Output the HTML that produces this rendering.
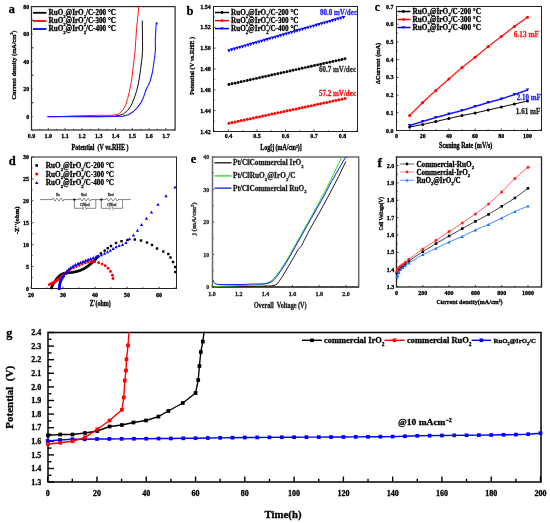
<!DOCTYPE html>
<html><head><meta charset="utf-8"><title>Figure</title>
<style>
html,body{margin:0;padding:0;background:#fff;}
body{width:550px;height:523px;overflow:hidden;}
svg{display:block;}
svg text{font-family:'Liberation Serif', 'Times New Roman', serif;font-weight:bold;stroke-width:0.3px;stroke-linejoin:round;}
</style></head><body>
<svg width="550" height="523" viewBox="0 0 550 523">
<rect x="0" y="0" width="550" height="523" fill="#fff"/>
<line x1="31.5" y1="130" x2="31.5" y2="127.8" stroke="#2a2a2a" stroke-width="0.8" />
<line x1="48.3" y1="130" x2="48.3" y2="127.8" stroke="#2a2a2a" stroke-width="0.8" />
<line x1="65.1" y1="130" x2="65.1" y2="127.8" stroke="#2a2a2a" stroke-width="0.8" />
<line x1="81.9" y1="130" x2="81.9" y2="127.8" stroke="#2a2a2a" stroke-width="0.8" />
<line x1="98.7" y1="130" x2="98.7" y2="127.8" stroke="#2a2a2a" stroke-width="0.8" />
<line x1="115.5" y1="130" x2="115.5" y2="127.8" stroke="#2a2a2a" stroke-width="0.8" />
<line x1="132.3" y1="130" x2="132.3" y2="127.8" stroke="#2a2a2a" stroke-width="0.8" />
<line x1="149.1" y1="130" x2="149.1" y2="127.8" stroke="#2a2a2a" stroke-width="0.8" />
<line x1="165.9" y1="130" x2="165.9" y2="127.8" stroke="#2a2a2a" stroke-width="0.8" />
<line x1="39.9" y1="130" x2="39.9" y2="128.8" stroke="#2a2a2a" stroke-width="0.8" />
<line x1="56.7" y1="130" x2="56.7" y2="128.8" stroke="#2a2a2a" stroke-width="0.8" />
<line x1="73.5" y1="130" x2="73.5" y2="128.8" stroke="#2a2a2a" stroke-width="0.8" />
<line x1="90.3" y1="130" x2="90.3" y2="128.8" stroke="#2a2a2a" stroke-width="0.8" />
<line x1="107.1" y1="130" x2="107.1" y2="128.8" stroke="#2a2a2a" stroke-width="0.8" />
<line x1="123.9" y1="130" x2="123.9" y2="128.8" stroke="#2a2a2a" stroke-width="0.8" />
<line x1="140.7" y1="130" x2="140.7" y2="128.8" stroke="#2a2a2a" stroke-width="0.8" />
<line x1="157.5" y1="130" x2="157.5" y2="128.8" stroke="#2a2a2a" stroke-width="0.8" />
<line x1="174.3" y1="130" x2="174.3" y2="128.8" stroke="#2a2a2a" stroke-width="0.8" />
<line x1="31.5" y1="102.75" x2="33.5" y2="102.75" stroke="#2a2a2a" stroke-width="0.8" />
<line x1="31.5" y1="75.25" x2="33.5" y2="75.25" stroke="#2a2a2a" stroke-width="0.8" />
<line x1="31.5" y1="47.75" x2="33.5" y2="47.75" stroke="#2a2a2a" stroke-width="0.8" />
<line x1="31.5" y1="20.25" x2="33.5" y2="20.25" stroke="#2a2a2a" stroke-width="0.8" />
<line x1="31.5" y1="130.25" x2="32.7" y2="130.25" stroke="#2a2a2a" stroke-width="0.8" />
<line x1="31.5" y1="116.5" x2="32.7" y2="116.5" stroke="#2a2a2a" stroke-width="0.8" />
<line x1="31.5" y1="102.75" x2="32.7" y2="102.75" stroke="#2a2a2a" stroke-width="0.8" />
<line x1="31.5" y1="89" x2="32.7" y2="89" stroke="#2a2a2a" stroke-width="0.8" />
<line x1="31.5" y1="75.25" x2="32.7" y2="75.25" stroke="#2a2a2a" stroke-width="0.8" />
<line x1="31.5" y1="61.5" x2="32.7" y2="61.5" stroke="#2a2a2a" stroke-width="0.8" />
<line x1="31.5" y1="47.75" x2="32.7" y2="47.75" stroke="#2a2a2a" stroke-width="0.8" />
<line x1="31.5" y1="34" x2="32.7" y2="34" stroke="#2a2a2a" stroke-width="0.8" />
<line x1="31.5" y1="20.25" x2="32.7" y2="20.25" stroke="#2a2a2a" stroke-width="0.8" />
<line x1="31.5" y1="6.5" x2="32.7" y2="6.5" stroke="#2a2a2a" stroke-width="0.8" />
<rect x="31.5" y="6.6" width="143.6" height="123.4" fill="none" stroke="#2a2a2a" stroke-width="1.2"/>
<text x="29.2" y="118.54" font-size="6" fill="#000" stroke="#000" text-anchor="end" >0</text>
<text x="29.2" y="91.04" font-size="6" fill="#000" stroke="#000" text-anchor="end" >20</text>
<text x="29.2" y="63.54" font-size="6" fill="#000" stroke="#000" text-anchor="end" >40</text>
<text x="29.2" y="36.04" font-size="6" fill="#000" stroke="#000" text-anchor="end" >60</text>
<text x="29.2" y="8.54" font-size="6" fill="#000" stroke="#000" text-anchor="end" >80</text>
<text x="31.5" y="138.04" font-size="6" fill="#000" stroke="#000" text-anchor="middle" >0.9</text>
<text x="48.3" y="138.04" font-size="6" fill="#000" stroke="#000" text-anchor="middle" >1.0</text>
<text x="65.1" y="138.04" font-size="6" fill="#000" stroke="#000" text-anchor="middle" >1.1</text>
<text x="81.9" y="138.04" font-size="6" fill="#000" stroke="#000" text-anchor="middle" >1.2</text>
<text x="98.7" y="138.04" font-size="6" fill="#000" stroke="#000" text-anchor="middle" >1.3</text>
<text x="115.5" y="138.04" font-size="6" fill="#000" stroke="#000" text-anchor="middle" >1.4</text>
<text x="132.3" y="138.04" font-size="6" fill="#000" stroke="#000" text-anchor="middle" >1.5</text>
<text x="149.1" y="138.04" font-size="6" fill="#000" stroke="#000" text-anchor="middle" >1.6</text>
<text x="165.9" y="138.04" font-size="6" fill="#000" stroke="#000" text-anchor="middle" >1.7</text>
<text x="71.6" y="149.65" font-size="7.2" fill="#000" stroke="#000" textLength="56.8" lengthAdjust="spacingAndGlyphs" >Potential&#160;&#160;(V vs.RHE )</text>
<text x="13.5" y="67.11" font-size="6.2" fill="#000" stroke="#000" text-anchor="middle" transform="rotate(-90 13.5 65)" >Current density (mA/cm<tspan font-size="3.84" dy="-2.36">2</tspan><tspan dy="2.36">)</tspan></text>
<text x="8.8" y="12.6" font-size="12.2" stroke="#000">a</text>
<polyline points="48,116.6 100,116.6 110,116.4 115,116.1 119,115.5 123.7,113.8 127.7,110.4 131.4,105.1 134.1,98.4 136.4,91.7 138.1,85 139.2,79 140.5,70 142,58 142.6,50 142.5,40 142.3,21" fill="none" stroke="#111" stroke-width="1" stroke-linejoin="round" stroke-linecap="round" />
<polyline points="48,116.9 60,116.6 75,115.9 90,115.5 100,115.3 110,115.3 115,115.1 119,113.8 123,109.8 125.7,105.1 127.7,98.4 129.4,91.7 130.7,85 132,77 133.3,66 134.6,55 135.2,50 135.6,43 136.8,26 137.8,17 138.5,10 138.4,6.5" fill="none" stroke="#ff1a1a" stroke-width="1" stroke-linejoin="round" stroke-linecap="round" />
<polyline points="48,116.5 100,116.6 115,116.5 123,116.1 128.4,114.8 133.1,111.8 137.8,107.1 141.1,102.4 143.8,96.4 145.8,90.5 146.6,88.3 148.3,85.5 150.2,81 152.5,72 154.5,58 155.5,50 155.3,40 156,27 156.3,22.5 157.6,24" fill="none" stroke="#1a1aff" stroke-width="1.1" stroke-linejoin="round" stroke-linecap="round" />
<line x1="33" y1="12.8" x2="46.5" y2="12.8" stroke="#000" stroke-width="1.8" />
<text x="48.5" y="15.25" font-size="7.2" fill="#000" stroke="#000" textLength="67.5" lengthAdjust="spacingAndGlyphs" >RuO<tspan font-size="4.61" dy="2.3">2</tspan><tspan dy="-2.3">@IrO<tspan font-size="4.61" dy="2.3">2</tspan><tspan dy="-2.3">/C-200 &#176;C</tspan></tspan></text>
<line x1="33" y1="21" x2="46.5" y2="21" stroke="#ff0000" stroke-width="1.8" />
<text x="48.5" y="23.45" font-size="7.2" fill="#000" stroke="#000" textLength="67.5" lengthAdjust="spacingAndGlyphs" >RuO<tspan font-size="4.61" dy="2.3">2</tspan><tspan dy="-2.3">@IrO<tspan font-size="4.61" dy="2.3">2</tspan><tspan dy="-2.3">/C-300 &#176;C</tspan></tspan></text>
<line x1="33" y1="29" x2="46.5" y2="29" stroke="#0000ff" stroke-width="1.8" />
<text x="48.5" y="31.45" font-size="7.2" fill="#000" stroke="#000" textLength="67.5" lengthAdjust="spacingAndGlyphs" >RuO<tspan font-size="4.61" dy="2.3">2</tspan><tspan dy="-2.3">@IrO<tspan font-size="4.61" dy="2.3">2</tspan><tspan dy="-2.3">/C-400 &#176;C</tspan></tspan></text>
<line x1="228.5" y1="131.5" x2="228.5" y2="129.5" stroke="#222" stroke-width="0.8" />
<line x1="257" y1="131.5" x2="257" y2="129.5" stroke="#222" stroke-width="0.8" />
<line x1="285.5" y1="131.5" x2="285.5" y2="129.5" stroke="#222" stroke-width="0.8" />
<line x1="314" y1="131.5" x2="314" y2="129.5" stroke="#222" stroke-width="0.8" />
<line x1="342.5" y1="131.5" x2="342.5" y2="129.5" stroke="#222" stroke-width="0.8" />
<line x1="214.25" y1="131.5" x2="214.25" y2="130.3" stroke="#222" stroke-width="0.8" />
<line x1="242.75" y1="131.5" x2="242.75" y2="130.3" stroke="#222" stroke-width="0.8" />
<line x1="271.25" y1="131.5" x2="271.25" y2="130.3" stroke="#222" stroke-width="0.8" />
<line x1="299.75" y1="131.5" x2="299.75" y2="130.3" stroke="#222" stroke-width="0.8" />
<line x1="328.25" y1="131.5" x2="328.25" y2="130.3" stroke="#222" stroke-width="0.8" />
<line x1="356.75" y1="131.5" x2="356.75" y2="130.3" stroke="#222" stroke-width="0.8" />
<line x1="213.5" y1="131.5" x2="215.5" y2="131.5" stroke="#222" stroke-width="0.8" />
<line x1="213.5" y1="110.67" x2="215.5" y2="110.67" stroke="#222" stroke-width="0.8" />
<line x1="213.5" y1="89.83" x2="215.5" y2="89.83" stroke="#222" stroke-width="0.8" />
<line x1="213.5" y1="69" x2="215.5" y2="69" stroke="#222" stroke-width="0.8" />
<line x1="213.5" y1="48.17" x2="215.5" y2="48.17" stroke="#222" stroke-width="0.8" />
<line x1="213.5" y1="27.33" x2="215.5" y2="27.33" stroke="#222" stroke-width="0.8" />
<line x1="213.5" y1="6.5" x2="215.5" y2="6.5" stroke="#222" stroke-width="0.8" />
<line x1="213.5" y1="121.08" x2="214.7" y2="121.08" stroke="#222" stroke-width="0.8" />
<line x1="213.5" y1="100.25" x2="214.7" y2="100.25" stroke="#222" stroke-width="0.8" />
<line x1="213.5" y1="79.42" x2="214.7" y2="79.42" stroke="#222" stroke-width="0.8" />
<line x1="213.5" y1="58.58" x2="214.7" y2="58.58" stroke="#222" stroke-width="0.8" />
<line x1="213.5" y1="37.75" x2="214.7" y2="37.75" stroke="#222" stroke-width="0.8" />
<line x1="213.5" y1="16.92" x2="214.7" y2="16.92" stroke="#222" stroke-width="0.8" />
<rect x="213.5" y="6.5" width="144" height="125" fill="none" stroke="#222" stroke-width="1"/>
<text x="210.8" y="133.54" font-size="6" fill="#000" stroke="#000" text-anchor="end" >1.42</text>
<text x="210.8" y="112.71" font-size="6" fill="#000" stroke="#000" text-anchor="end" >1.44</text>
<text x="210.8" y="91.87" font-size="6" fill="#000" stroke="#000" text-anchor="end" >1.46</text>
<text x="210.8" y="71.04" font-size="6" fill="#000" stroke="#000" text-anchor="end" >1.48</text>
<text x="210.8" y="50.21" font-size="6" fill="#000" stroke="#000" text-anchor="end" >1.50</text>
<text x="210.8" y="29.37" font-size="6" fill="#000" stroke="#000" text-anchor="end" >1.52</text>
<text x="210.8" y="8.54" font-size="6" fill="#000" stroke="#000" text-anchor="end" >1.54</text>
<text x="228.5" y="138.44" font-size="6" fill="#000" stroke="#000" text-anchor="middle" >0.4</text>
<text x="257" y="138.44" font-size="6" fill="#000" stroke="#000" text-anchor="middle" >0.5</text>
<text x="285.5" y="138.44" font-size="6" fill="#000" stroke="#000" text-anchor="middle" >0.6</text>
<text x="314" y="138.44" font-size="6" fill="#000" stroke="#000" text-anchor="middle" >0.7</text>
<text x="342.5" y="138.44" font-size="6" fill="#000" stroke="#000" text-anchor="middle" >0.8</text>
<text x="260.3" y="150.35" font-size="7.2" fill="#000" stroke="#000" textLength="41.5" lengthAdjust="spacingAndGlyphs" >Log[j (mA/cm<tspan font-size="4.46" dy="-2.74">2</tspan><tspan dy="2.74">)]</tspan></text>
<text x="192.3" y="68.11" font-size="6.2" fill="#000" stroke="#000" text-anchor="middle" textLength="58" lengthAdjust="spacingAndGlyphs" transform="rotate(-90 192.3 66)" >Potential (V vs.RHE )</text>
<text x="186.5" y="14.9" font-size="12.5" stroke="#000">b</text>
<polygon points="227.15,49.13 230.85,49.13 229,52.46" fill="#0000ff"/>
<polygon points="229.88,48.34 233.58,48.34 231.73,51.67" fill="#0000ff"/>
<polygon points="232.6,47.55 236.3,47.55 234.45,50.88" fill="#0000ff"/>
<polygon points="235.33,46.76 239.03,46.76 237.18,50.09" fill="#0000ff"/>
<polygon points="238.05,45.97 241.75,45.97 239.9,49.3" fill="#0000ff"/>
<polygon points="240.78,45.18 244.48,45.18 242.63,48.51" fill="#0000ff"/>
<polygon points="243.51,44.39 247.21,44.39 245.36,47.72" fill="#0000ff"/>
<polygon points="246.23,43.6 249.93,43.6 248.08,46.93" fill="#0000ff"/>
<polygon points="248.96,42.81 252.66,42.81 250.81,46.14" fill="#0000ff"/>
<polygon points="251.69,42.02 255.39,42.02 253.54,45.35" fill="#0000ff"/>
<polygon points="254.41,41.23 258.11,41.23 256.26,44.56" fill="#0000ff"/>
<polygon points="257.14,40.44 260.84,40.44 258.99,43.77" fill="#0000ff"/>
<polygon points="259.86,39.65 263.56,39.65 261.71,42.98" fill="#0000ff"/>
<polygon points="262.59,38.86 266.29,38.86 264.44,42.19" fill="#0000ff"/>
<polygon points="265.32,38.07 269.02,38.07 267.17,41.4" fill="#0000ff"/>
<polygon points="268.04,37.28 271.74,37.28 269.89,40.61" fill="#0000ff"/>
<polygon points="270.77,36.49 274.47,36.49 272.62,39.82" fill="#0000ff"/>
<polygon points="273.5,35.7 277.2,35.7 275.35,39.03" fill="#0000ff"/>
<polygon points="276.22,34.91 279.92,34.91 278.07,38.24" fill="#0000ff"/>
<polygon points="278.95,34.12 282.65,34.12 280.8,37.45" fill="#0000ff"/>
<polygon points="281.67,33.33 285.37,33.33 283.52,36.66" fill="#0000ff"/>
<polygon points="284.4,32.54 288.1,32.54 286.25,35.87" fill="#0000ff"/>
<polygon points="287.13,31.74 290.83,31.74 288.98,35.07" fill="#0000ff"/>
<polygon points="289.85,30.95 293.55,30.95 291.7,34.28" fill="#0000ff"/>
<polygon points="292.58,30.16 296.28,30.16 294.43,33.49" fill="#0000ff"/>
<polygon points="295.3,29.37 299,29.37 297.15,32.7" fill="#0000ff"/>
<polygon points="298.03,28.58 301.73,28.58 299.88,31.91" fill="#0000ff"/>
<polygon points="300.76,27.79 304.46,27.79 302.61,31.12" fill="#0000ff"/>
<polygon points="303.48,27 307.18,27 305.33,30.33" fill="#0000ff"/>
<polygon points="306.21,26.21 309.91,26.21 308.06,29.54" fill="#0000ff"/>
<polygon points="308.94,25.42 312.64,25.42 310.79,28.75" fill="#0000ff"/>
<polygon points="311.66,24.63 315.36,24.63 313.51,27.96" fill="#0000ff"/>
<polygon points="314.39,23.84 318.09,23.84 316.24,27.17" fill="#0000ff"/>
<polygon points="317.11,23.05 320.81,23.05 318.96,26.38" fill="#0000ff"/>
<polygon points="319.84,22.26 323.54,22.26 321.69,25.59" fill="#0000ff"/>
<polygon points="322.57,21.47 326.27,21.47 324.42,24.8" fill="#0000ff"/>
<polygon points="325.29,20.68 328.99,20.68 327.14,24.01" fill="#0000ff"/>
<polygon points="328.02,19.89 331.72,19.89 329.87,23.22" fill="#0000ff"/>
<polygon points="330.75,19.1 334.45,19.1 332.6,22.43" fill="#0000ff"/>
<polygon points="333.47,18.31 337.17,18.31 335.32,21.64" fill="#0000ff"/>
<polygon points="336.2,17.52 339.9,17.52 338.05,20.85" fill="#0000ff"/>
<polygon points="338.92,16.73 342.62,16.73 340.77,20.06" fill="#0000ff"/>
<polygon points="341.65,15.94 345.35,15.94 343.5,19.27" fill="#0000ff"/>
<circle cx="229" cy="84.5" r="1.45" fill="#000"/>
<circle cx="232.05" cy="83.82" r="1.45" fill="#000"/>
<circle cx="235.11" cy="83.15" r="1.45" fill="#000"/>
<circle cx="238.16" cy="82.47" r="1.45" fill="#000"/>
<circle cx="241.21" cy="81.79" r="1.45" fill="#000"/>
<circle cx="244.26" cy="81.12" r="1.45" fill="#000"/>
<circle cx="247.32" cy="80.44" r="1.45" fill="#000"/>
<circle cx="250.37" cy="79.77" r="1.45" fill="#000"/>
<circle cx="253.42" cy="79.09" r="1.45" fill="#000"/>
<circle cx="256.47" cy="78.41" r="1.45" fill="#000"/>
<circle cx="259.53" cy="77.74" r="1.45" fill="#000"/>
<circle cx="262.58" cy="77.06" r="1.45" fill="#000"/>
<circle cx="265.63" cy="76.38" r="1.45" fill="#000"/>
<circle cx="268.68" cy="75.71" r="1.45" fill="#000"/>
<circle cx="271.74" cy="75.03" r="1.45" fill="#000"/>
<circle cx="274.79" cy="74.36" r="1.45" fill="#000"/>
<circle cx="277.84" cy="73.68" r="1.45" fill="#000"/>
<circle cx="280.89" cy="73" r="1.45" fill="#000"/>
<circle cx="283.95" cy="72.33" r="1.45" fill="#000"/>
<circle cx="287" cy="71.65" r="1.45" fill="#000"/>
<circle cx="290.05" cy="70.97" r="1.45" fill="#000"/>
<circle cx="293.11" cy="70.3" r="1.45" fill="#000"/>
<circle cx="296.16" cy="69.62" r="1.45" fill="#000"/>
<circle cx="299.21" cy="68.94" r="1.45" fill="#000"/>
<circle cx="302.26" cy="68.27" r="1.45" fill="#000"/>
<circle cx="305.32" cy="67.59" r="1.45" fill="#000"/>
<circle cx="308.37" cy="66.92" r="1.45" fill="#000"/>
<circle cx="311.42" cy="66.24" r="1.45" fill="#000"/>
<circle cx="314.47" cy="65.56" r="1.45" fill="#000"/>
<circle cx="317.53" cy="64.89" r="1.45" fill="#000"/>
<circle cx="320.58" cy="64.21" r="1.45" fill="#000"/>
<circle cx="323.63" cy="63.53" r="1.45" fill="#000"/>
<circle cx="326.68" cy="62.86" r="1.45" fill="#000"/>
<circle cx="329.74" cy="62.18" r="1.45" fill="#000"/>
<circle cx="332.79" cy="61.51" r="1.45" fill="#000"/>
<circle cx="335.84" cy="60.83" r="1.45" fill="#000"/>
<circle cx="338.89" cy="60.15" r="1.45" fill="#000"/>
<circle cx="341.95" cy="59.48" r="1.45" fill="#000"/>
<circle cx="345" cy="58.8" r="1.45" fill="#000"/>
<circle cx="229" cy="123.2" r="1.5" fill="#ff0000"/>
<circle cx="232.05" cy="122.55" r="1.5" fill="#ff0000"/>
<circle cx="235.11" cy="121.9" r="1.5" fill="#ff0000"/>
<circle cx="238.16" cy="121.25" r="1.5" fill="#ff0000"/>
<circle cx="241.21" cy="120.6" r="1.5" fill="#ff0000"/>
<circle cx="244.26" cy="119.95" r="1.5" fill="#ff0000"/>
<circle cx="247.32" cy="119.3" r="1.5" fill="#ff0000"/>
<circle cx="250.37" cy="118.65" r="1.5" fill="#ff0000"/>
<circle cx="253.42" cy="118" r="1.5" fill="#ff0000"/>
<circle cx="256.47" cy="117.35" r="1.5" fill="#ff0000"/>
<circle cx="259.53" cy="116.7" r="1.5" fill="#ff0000"/>
<circle cx="262.58" cy="116.05" r="1.5" fill="#ff0000"/>
<circle cx="265.63" cy="115.4" r="1.5" fill="#ff0000"/>
<circle cx="268.68" cy="114.75" r="1.5" fill="#ff0000"/>
<circle cx="271.74" cy="114.1" r="1.5" fill="#ff0000"/>
<circle cx="274.79" cy="113.45" r="1.5" fill="#ff0000"/>
<circle cx="277.84" cy="112.8" r="1.5" fill="#ff0000"/>
<circle cx="280.89" cy="112.15" r="1.5" fill="#ff0000"/>
<circle cx="283.95" cy="111.5" r="1.5" fill="#ff0000"/>
<circle cx="287" cy="110.85" r="1.5" fill="#ff0000"/>
<circle cx="290.05" cy="110.2" r="1.5" fill="#ff0000"/>
<circle cx="293.11" cy="109.55" r="1.5" fill="#ff0000"/>
<circle cx="296.16" cy="108.9" r="1.5" fill="#ff0000"/>
<circle cx="299.21" cy="108.25" r="1.5" fill="#ff0000"/>
<circle cx="302.26" cy="107.6" r="1.5" fill="#ff0000"/>
<circle cx="305.32" cy="106.95" r="1.5" fill="#ff0000"/>
<circle cx="308.37" cy="106.3" r="1.5" fill="#ff0000"/>
<circle cx="311.42" cy="105.65" r="1.5" fill="#ff0000"/>
<circle cx="314.47" cy="105" r="1.5" fill="#ff0000"/>
<circle cx="317.53" cy="104.35" r="1.5" fill="#ff0000"/>
<circle cx="320.58" cy="103.7" r="1.5" fill="#ff0000"/>
<circle cx="323.63" cy="103.05" r="1.5" fill="#ff0000"/>
<circle cx="326.68" cy="102.4" r="1.5" fill="#ff0000"/>
<circle cx="329.74" cy="101.75" r="1.5" fill="#ff0000"/>
<circle cx="332.79" cy="101.1" r="1.5" fill="#ff0000"/>
<circle cx="335.84" cy="100.45" r="1.5" fill="#ff0000"/>
<circle cx="338.89" cy="99.8" r="1.5" fill="#ff0000"/>
<circle cx="341.95" cy="99.15" r="1.5" fill="#ff0000"/>
<circle cx="345" cy="98.5" r="1.5" fill="#ff0000"/>
<text x="320" y="15.12" font-size="8" fill="#1f1fff" stroke="#1f1fff" textLength="37" lengthAdjust="spacingAndGlyphs" >80.0 mV/dec</text>
<text x="319" y="72.32" font-size="8" fill="#2a2a2a" stroke="#2a2a2a" textLength="37" lengthAdjust="spacingAndGlyphs" >60.7 mV/dec</text>
<text x="319" y="95.92" font-size="8" fill="#ff1010" stroke="#ff1010" textLength="37" lengthAdjust="spacingAndGlyphs" >57.2 mV/dec</text>
<line x1="215" y1="12.5" x2="229" y2="12.5" stroke="#000" stroke-width="1.5" />
<circle cx="222" cy="12.5" r="1.4" fill="#000"/>
<text x="231" y="15.29" font-size="8.2" fill="#000" stroke="#000" textLength="67.5" lengthAdjust="spacingAndGlyphs" >RuO<tspan font-size="5.25" dy="2.62">2</tspan><tspan dy="-2.62">@IrO<tspan font-size="5.25" dy="2.62">2</tspan><tspan dy="-2.62">/C-200 &#176;C</tspan></tspan></text>
<line x1="215" y1="20.6" x2="229" y2="20.6" stroke="#ff0000" stroke-width="1.5" />
<circle cx="222" cy="20.6" r="1.4" fill="#ff0000"/>
<text x="231" y="23.39" font-size="8.2" fill="#000" stroke="#000" textLength="67.5" lengthAdjust="spacingAndGlyphs" >RuO<tspan font-size="5.25" dy="2.62">2</tspan><tspan dy="-2.62">@IrO<tspan font-size="5.25" dy="2.62">2</tspan><tspan dy="-2.62">/C-300 &#176;C</tspan></tspan></text>
<line x1="215" y1="28.6" x2="229" y2="28.6" stroke="#0000ff" stroke-width="1.5" />
<polygon points="220.5,27.25 223.5,27.25 222,29.95" fill="#0000ff"/>
<text x="231" y="31.39" font-size="8.2" fill="#000" stroke="#000" textLength="67.5" lengthAdjust="spacingAndGlyphs" >RuO<tspan font-size="5.25" dy="2.62">2</tspan><tspan dy="-2.62">@IrO<tspan font-size="5.25" dy="2.62">2</tspan><tspan dy="-2.62">/C-400 &#176;C</tspan></tspan></text>
<line x1="396.5" y1="130.5" x2="396.5" y2="128.5" stroke="#222" stroke-width="0.8" />
<line x1="422.7" y1="130.5" x2="422.7" y2="128.5" stroke="#222" stroke-width="0.8" />
<line x1="448.9" y1="130.5" x2="448.9" y2="128.5" stroke="#222" stroke-width="0.8" />
<line x1="475.1" y1="130.5" x2="475.1" y2="128.5" stroke="#222" stroke-width="0.8" />
<line x1="501.3" y1="130.5" x2="501.3" y2="128.5" stroke="#222" stroke-width="0.8" />
<line x1="527.5" y1="130.5" x2="527.5" y2="128.5" stroke="#222" stroke-width="0.8" />
<line x1="409.6" y1="130.5" x2="409.6" y2="129.3" stroke="#222" stroke-width="0.8" />
<line x1="435.8" y1="130.5" x2="435.8" y2="129.3" stroke="#222" stroke-width="0.8" />
<line x1="462" y1="130.5" x2="462" y2="129.3" stroke="#222" stroke-width="0.8" />
<line x1="488.2" y1="130.5" x2="488.2" y2="129.3" stroke="#222" stroke-width="0.8" />
<line x1="514.4" y1="130.5" x2="514.4" y2="129.3" stroke="#222" stroke-width="0.8" />
<line x1="540.6" y1="130.5" x2="540.6" y2="129.3" stroke="#222" stroke-width="0.8" />
<line x1="396.5" y1="130.5" x2="398.5" y2="130.5" stroke="#222" stroke-width="0.8" />
<line x1="396.5" y1="112.79" x2="398.5" y2="112.79" stroke="#222" stroke-width="0.8" />
<line x1="396.5" y1="95.07" x2="398.5" y2="95.07" stroke="#222" stroke-width="0.8" />
<line x1="396.5" y1="77.36" x2="398.5" y2="77.36" stroke="#222" stroke-width="0.8" />
<line x1="396.5" y1="59.64" x2="398.5" y2="59.64" stroke="#222" stroke-width="0.8" />
<line x1="396.5" y1="41.93" x2="398.5" y2="41.93" stroke="#222" stroke-width="0.8" />
<line x1="396.5" y1="24.21" x2="398.5" y2="24.21" stroke="#222" stroke-width="0.8" />
<line x1="396.5" y1="6.5" x2="398.5" y2="6.5" stroke="#222" stroke-width="0.8" />
<line x1="396.5" y1="121.64" x2="397.7" y2="121.64" stroke="#222" stroke-width="0.8" />
<line x1="396.5" y1="103.93" x2="397.7" y2="103.93" stroke="#222" stroke-width="0.8" />
<line x1="396.5" y1="86.21" x2="397.7" y2="86.21" stroke="#222" stroke-width="0.8" />
<line x1="396.5" y1="68.5" x2="397.7" y2="68.5" stroke="#222" stroke-width="0.8" />
<line x1="396.5" y1="50.79" x2="397.7" y2="50.79" stroke="#222" stroke-width="0.8" />
<line x1="396.5" y1="33.07" x2="397.7" y2="33.07" stroke="#222" stroke-width="0.8" />
<line x1="396.5" y1="15.36" x2="397.7" y2="15.36" stroke="#222" stroke-width="0.8" />
<rect x="396.5" y="6.5" width="145" height="124" fill="none" stroke="#222" stroke-width="1"/>
<text x="393.5" y="132.54" font-size="6" fill="#000" stroke="#000" text-anchor="end" >0.0</text>
<text x="393.5" y="114.83" font-size="6" fill="#000" stroke="#000" text-anchor="end" >0.1</text>
<text x="393.5" y="97.11" font-size="6" fill="#000" stroke="#000" text-anchor="end" >0.2</text>
<text x="393.5" y="79.4" font-size="6" fill="#000" stroke="#000" text-anchor="end" >0.3</text>
<text x="393.5" y="61.68" font-size="6" fill="#000" stroke="#000" text-anchor="end" >0.4</text>
<text x="393.5" y="43.97" font-size="6" fill="#000" stroke="#000" text-anchor="end" >0.5</text>
<text x="393.5" y="26.25" font-size="6" fill="#000" stroke="#000" text-anchor="end" >0.6</text>
<text x="393.5" y="8.54" font-size="6" fill="#000" stroke="#000" text-anchor="end" >0.7</text>
<text x="396.5" y="138.04" font-size="6" fill="#000" stroke="#000" text-anchor="middle" >0</text>
<text x="422.7" y="138.04" font-size="6" fill="#000" stroke="#000" text-anchor="middle" >20</text>
<text x="448.9" y="138.04" font-size="6" fill="#000" stroke="#000" text-anchor="middle" >40</text>
<text x="475.1" y="138.04" font-size="6" fill="#000" stroke="#000" text-anchor="middle" >60</text>
<text x="501.3" y="138.04" font-size="6" fill="#000" stroke="#000" text-anchor="middle" >80</text>
<text x="527.5" y="138.04" font-size="6" fill="#000" stroke="#000" text-anchor="middle" >100</text>
<text x="439" y="148.12" font-size="7.4" fill="#000" stroke="#000" textLength="53.4" lengthAdjust="spacingAndGlyphs" >Scaning Rate (mV/s)</text>
<text x="378.2" y="65.61" font-size="6.2" fill="#000" stroke="#000" text-anchor="middle" textLength="41" lengthAdjust="spacingAndGlyphs" transform="rotate(-90 378.2 63.5)" >&#916;Current (mA)</text>
<text x="374.8" y="10.8" font-size="11.5" stroke="#000">c</text>
<polyline points="409.6,127 422.7,124.5 435.8,121.5 448.9,118.5 462,115.5 475.1,113 488.2,110 501.3,107 514.4,104 527.5,101" fill="none" stroke="#111" stroke-width="1.1" stroke-linejoin="round" stroke-linecap="round" />
<polyline points="409.6,115.5 422.7,102.5 435.8,90.5 448.9,79 462,67.6 475.1,57.2 488.2,46.6 501.3,36.6 514.4,26.4 527.5,17.2" fill="none" stroke="#ff1a1a" stroke-width="1.3" stroke-linejoin="round" stroke-linecap="round" />
<polyline points="409.6,125.5 422.7,121.5 435.8,117.5 448.9,114 462,110.5 475.1,106.5 488.2,102.5 501.3,99 514.4,94.5 527.5,90" fill="none" stroke="#1a1aff" stroke-width="1.4" stroke-linejoin="round" stroke-linecap="round" />
<circle cx="409.6" cy="127" r="1.5" fill="#000"/>
<circle cx="422.7" cy="124.5" r="1.5" fill="#000"/>
<circle cx="435.8" cy="121.5" r="1.5" fill="#000"/>
<circle cx="448.9" cy="118.5" r="1.5" fill="#000"/>
<circle cx="462" cy="115.5" r="1.5" fill="#000"/>
<circle cx="475.1" cy="113" r="1.5" fill="#000"/>
<circle cx="488.2" cy="110" r="1.5" fill="#000"/>
<circle cx="501.3" cy="107" r="1.5" fill="#000"/>
<circle cx="514.4" cy="104" r="1.5" fill="#000"/>
<circle cx="527.5" cy="101" r="1.5" fill="#000"/>
<circle cx="409.6" cy="115.5" r="1.5" fill="#ff0000"/>
<circle cx="422.7" cy="102.5" r="1.5" fill="#ff0000"/>
<circle cx="435.8" cy="90.5" r="1.5" fill="#ff0000"/>
<circle cx="448.9" cy="79" r="1.5" fill="#ff0000"/>
<circle cx="462" cy="67.6" r="1.5" fill="#ff0000"/>
<circle cx="475.1" cy="57.2" r="1.5" fill="#ff0000"/>
<circle cx="488.2" cy="46.6" r="1.5" fill="#ff0000"/>
<circle cx="501.3" cy="36.6" r="1.5" fill="#ff0000"/>
<circle cx="514.4" cy="26.4" r="1.5" fill="#ff0000"/>
<circle cx="527.5" cy="17.2" r="1.5" fill="#ff0000"/>
<polygon points="408,124.06 411.2,124.06 409.6,126.94" fill="#0000ff"/>
<polygon points="421.1,120.06 424.3,120.06 422.7,122.94" fill="#0000ff"/>
<polygon points="434.2,116.06 437.4,116.06 435.8,118.94" fill="#0000ff"/>
<polygon points="447.3,112.56 450.5,112.56 448.9,115.44" fill="#0000ff"/>
<polygon points="460.4,109.06 463.6,109.06 462,111.94" fill="#0000ff"/>
<polygon points="473.5,105.06 476.7,105.06 475.1,107.94" fill="#0000ff"/>
<polygon points="486.6,101.06 489.8,101.06 488.2,103.94" fill="#0000ff"/>
<polygon points="499.7,97.56 502.9,97.56 501.3,100.44" fill="#0000ff"/>
<polygon points="512.8,93.06 516,93.06 514.4,95.94" fill="#0000ff"/>
<polygon points="525.9,88.56 529.1,88.56 527.5,91.44" fill="#0000ff"/>
<text x="513.8" y="36.72" font-size="8" fill="#ff1a1a" stroke="#ff1a1a" textLength="25.2" lengthAdjust="spacingAndGlyphs" >6.13 mF</text>
<text x="516.8" y="100.32" font-size="8" fill="#1f1fff" stroke="#1f1fff" textLength="24" lengthAdjust="spacingAndGlyphs" >2.10 mF</text>
<text x="515.8" y="113.92" font-size="8" fill="#222" stroke="#222" textLength="24.5" lengthAdjust="spacingAndGlyphs" >1.61 mF</text>
<line x1="397.5" y1="11.5" x2="410.5" y2="11.5" stroke="#000" stroke-width="1.5" />
<circle cx="403.5" cy="11.5" r="1.4" fill="#000"/>
<text x="412.5" y="13.95" font-size="7.2" fill="#000" stroke="#000" textLength="68.5" lengthAdjust="spacingAndGlyphs" >RuO<tspan font-size="4.61" dy="2.3">2</tspan><tspan dy="-2.3">@IrO<tspan font-size="4.61" dy="2.3">2</tspan><tspan dy="-2.3">/C-200 &#176;C</tspan></tspan></text>
<line x1="397.5" y1="19.5" x2="410.5" y2="19.5" stroke="#ff0000" stroke-width="1.5" />
<circle cx="403.5" cy="19.5" r="1.4" fill="#ff0000"/>
<text x="412.5" y="21.95" font-size="7.2" fill="#000" stroke="#000" textLength="68.5" lengthAdjust="spacingAndGlyphs" >RuO<tspan font-size="4.61" dy="2.3">2</tspan><tspan dy="-2.3">@IrO<tspan font-size="4.61" dy="2.3">2</tspan><tspan dy="-2.3">/C-300 &#176;C</tspan></tspan></text>
<line x1="397.5" y1="27.5" x2="410.5" y2="27.5" stroke="#0000ff" stroke-width="1.5" />
<polygon points="402,26.15 405,26.15 403.5,28.85" fill="#0000ff"/>
<text x="412.5" y="29.95" font-size="7.2" fill="#000" stroke="#000" textLength="68.5" lengthAdjust="spacingAndGlyphs" >RuO<tspan font-size="4.61" dy="2.3">2</tspan><tspan dy="-2.3">@IrO<tspan font-size="4.61" dy="2.3">2</tspan><tspan dy="-2.3">/C-400 &#176;C</tspan></tspan></text>
<line x1="31" y1="288.5" x2="31" y2="286.5" stroke="#222" stroke-width="0.8" />
<line x1="63" y1="288.5" x2="63" y2="286.5" stroke="#222" stroke-width="0.8" />
<line x1="95" y1="288.5" x2="95" y2="286.5" stroke="#222" stroke-width="0.8" />
<line x1="127" y1="288.5" x2="127" y2="286.5" stroke="#222" stroke-width="0.8" />
<line x1="159" y1="288.5" x2="159" y2="286.5" stroke="#222" stroke-width="0.8" />
<line x1="47" y1="288.5" x2="47" y2="287.3" stroke="#222" stroke-width="0.8" />
<line x1="79" y1="288.5" x2="79" y2="287.3" stroke="#222" stroke-width="0.8" />
<line x1="111" y1="288.5" x2="111" y2="287.3" stroke="#222" stroke-width="0.8" />
<line x1="143" y1="288.5" x2="143" y2="287.3" stroke="#222" stroke-width="0.8" />
<line x1="175" y1="288.5" x2="175" y2="287.3" stroke="#222" stroke-width="0.8" />
<line x1="31.5" y1="288.5" x2="33.5" y2="288.5" stroke="#222" stroke-width="0.8" />
<line x1="31.5" y1="266.58" x2="33.5" y2="266.58" stroke="#222" stroke-width="0.8" />
<line x1="31.5" y1="244.67" x2="33.5" y2="244.67" stroke="#222" stroke-width="0.8" />
<line x1="31.5" y1="222.75" x2="33.5" y2="222.75" stroke="#222" stroke-width="0.8" />
<line x1="31.5" y1="200.83" x2="33.5" y2="200.83" stroke="#222" stroke-width="0.8" />
<line x1="31.5" y1="178.92" x2="33.5" y2="178.92" stroke="#222" stroke-width="0.8" />
<line x1="31.5" y1="157" x2="33.5" y2="157" stroke="#222" stroke-width="0.8" />
<line x1="31.5" y1="277.54" x2="32.7" y2="277.54" stroke="#222" stroke-width="0.8" />
<line x1="31.5" y1="255.62" x2="32.7" y2="255.62" stroke="#222" stroke-width="0.8" />
<line x1="31.5" y1="233.71" x2="32.7" y2="233.71" stroke="#222" stroke-width="0.8" />
<line x1="31.5" y1="211.79" x2="32.7" y2="211.79" stroke="#222" stroke-width="0.8" />
<line x1="31.5" y1="189.88" x2="32.7" y2="189.88" stroke="#222" stroke-width="0.8" />
<line x1="31.5" y1="167.96" x2="32.7" y2="167.96" stroke="#222" stroke-width="0.8" />
<rect x="31.5" y="157" width="145" height="131.5" fill="none" stroke="#222" stroke-width="1"/>
<text x="29" y="290.54" font-size="6" fill="#000" stroke="#000" text-anchor="end" >0</text>
<text x="29" y="268.62" font-size="6" fill="#000" stroke="#000" text-anchor="end" >5</text>
<text x="29" y="246.71" font-size="6" fill="#000" stroke="#000" text-anchor="end" >10</text>
<text x="29" y="224.79" font-size="6" fill="#000" stroke="#000" text-anchor="end" >15</text>
<text x="29" y="202.87" font-size="6" fill="#000" stroke="#000" text-anchor="end" >20</text>
<text x="29" y="180.96" font-size="6" fill="#000" stroke="#000" text-anchor="end" >25</text>
<text x="29" y="159.04" font-size="6" fill="#000" stroke="#000" text-anchor="end" >30</text>
<text x="31" y="296.54" font-size="6" fill="#000" stroke="#000" text-anchor="middle" >20</text>
<text x="63" y="296.54" font-size="6" fill="#000" stroke="#000" text-anchor="middle" >30</text>
<text x="95" y="296.54" font-size="6" fill="#000" stroke="#000" text-anchor="middle" >40</text>
<text x="127" y="296.54" font-size="6" fill="#000" stroke="#000" text-anchor="middle" >50</text>
<text x="159" y="296.54" font-size="6" fill="#000" stroke="#000" text-anchor="middle" >60</text>
<text x="89.8" y="306.35" font-size="7.5" fill="#000" stroke="#000" textLength="21" lengthAdjust="spacingAndGlyphs" >Z'(ohm)</text>
<text x="16.8" y="222.41" font-size="6.2" fill="#000" stroke="#000" text-anchor="middle" textLength="27.7" lengthAdjust="spacingAndGlyphs" transform="rotate(-90 16.8 220.3)" >-Z''(ohm)</text>
<text x="8.7" y="164.5" font-size="12.5" stroke="#000">d</text>
<rect x="50.25" y="286.75" width="2.5" height="2.5" fill="#000"/>
<rect x="50.74" y="285.27" width="2.5" height="2.5" fill="#000"/>
<rect x="51.23" y="283.8" width="2.5" height="2.5" fill="#000"/>
<rect x="52.08" y="282.5" width="2.5" height="2.5" fill="#000"/>
<rect x="52.95" y="281.21" width="2.5" height="2.5" fill="#000"/>
<rect x="53.84" y="279.93" width="2.5" height="2.5" fill="#000"/>
<rect x="54.74" y="278.66" width="2.5" height="2.5" fill="#000"/>
<rect x="55.64" y="277.4" width="2.5" height="2.5" fill="#000"/>
<rect x="56.7" y="276.26" width="2.5" height="2.5" fill="#000"/>
<rect x="57.78" y="275.14" width="2.5" height="2.5" fill="#000"/>
<rect x="58.95" y="274.12" width="2.5" height="2.5" fill="#000"/>
<rect x="60.19" y="273.18" width="2.5" height="2.5" fill="#000"/>
<rect x="61.55" y="272.48" width="2.5" height="2.5" fill="#000"/>
<rect x="63.03" y="271.99" width="2.5" height="2.5" fill="#000"/>
<rect x="64.54" y="271.72" width="2.5" height="2.5" fill="#000"/>
<rect x="66.1" y="271.67" width="2.5" height="2.5" fill="#000"/>
<rect x="67.65" y="271.54" width="2.5" height="2.5" fill="#000"/>
<rect x="69.19" y="271.35" width="2.5" height="2.5" fill="#000"/>
<rect x="70.73" y="271.15" width="2.5" height="2.5" fill="#000"/>
<rect x="72.26" y="270.89" width="2.5" height="2.5" fill="#000"/>
<rect x="73.8" y="270.62" width="2.5" height="2.5" fill="#000"/>
<rect x="75.31" y="270.28" width="2.5" height="2.5" fill="#000"/>
<rect x="76.8" y="269.83" width="2.5" height="2.5" fill="#000"/>
<rect x="78.29" y="269.39" width="2.5" height="2.5" fill="#000"/>
<rect x="79.74" y="268.82" width="2.5" height="2.5" fill="#000"/>
<rect x="81.16" y="268.2" width="2.5" height="2.5" fill="#000"/>
<rect x="82.56" y="267.52" width="2.5" height="2.5" fill="#000"/>
<rect x="83.93" y="266.79" width="2.5" height="2.5" fill="#000"/>
<rect x="85.18" y="265.87" width="2.5" height="2.5" fill="#000"/>
<rect x="86.43" y="264.94" width="2.5" height="2.5" fill="#000"/>
<rect x="87.68" y="264.02" width="2.5" height="2.5" fill="#000"/>
<rect x="88.9" y="263.06" width="2.5" height="2.5" fill="#000"/>
<rect x="90.08" y="262.03" width="2.5" height="2.5" fill="#000"/>
<rect x="91.24" y="261.01" width="2.5" height="2.5" fill="#000"/>
<rect x="92.4" y="259.97" width="2.5" height="2.5" fill="#000"/>
<rect x="93.56" y="258.93" width="2.5" height="2.5" fill="#000"/>
<rect x="94.57" y="257.75" width="2.5" height="2.5" fill="#000"/>
<rect x="95.56" y="256.55" width="2.5" height="2.5" fill="#000"/>
<rect x="96.55" y="255.35" width="2.5" height="2.5" fill="#000"/>
<rect x="96.6" y="255.4" width="2.4" height="2.4" fill="#000"/>
<rect x="99.7" y="252.2" width="2.4" height="2.4" fill="#000"/>
<rect x="103.5" y="249.4" width="2.4" height="2.4" fill="#000"/>
<rect x="106.6" y="247" width="2.4" height="2.4" fill="#000"/>
<rect x="109.8" y="244.8" width="2.4" height="2.4" fill="#000"/>
<rect x="114.8" y="241.8" width="2.4" height="2.4" fill="#000"/>
<rect x="120.3" y="240" width="2.4" height="2.4" fill="#000"/>
<rect x="126.3" y="238.8" width="2.4" height="2.4" fill="#000"/>
<rect x="133.6" y="238.3" width="2.4" height="2.4" fill="#000"/>
<rect x="139.8" y="239.3" width="2.4" height="2.4" fill="#000"/>
<rect x="145.8" y="241.3" width="2.4" height="2.4" fill="#000"/>
<rect x="150.8" y="243.8" width="2.4" height="2.4" fill="#000"/>
<rect x="155.8" y="247.3" width="2.4" height="2.4" fill="#000"/>
<rect x="162.1" y="250.3" width="2.4" height="2.4" fill="#000"/>
<rect x="167.1" y="252.8" width="2.4" height="2.4" fill="#000"/>
<rect x="169.3" y="256.3" width="2.4" height="2.4" fill="#000"/>
<rect x="171.8" y="260.8" width="2.4" height="2.4" fill="#000"/>
<rect x="174" y="265.8" width="2.4" height="2.4" fill="#000"/>
<rect x="174.1" y="270.8" width="2.4" height="2.4" fill="#000"/>
<circle cx="49.5" cy="284.5" r="1.5" fill="#ff0000"/>
<circle cx="50.85" cy="283.85" r="1.5" fill="#ff0000"/>
<circle cx="52.2" cy="283.19" r="1.5" fill="#ff0000"/>
<circle cx="53.52" cy="282.49" r="1.5" fill="#ff0000"/>
<circle cx="54.85" cy="281.78" r="1.5" fill="#ff0000"/>
<circle cx="56.09" cy="280.94" r="1.5" fill="#ff0000"/>
<circle cx="57.32" cy="280.08" r="1.5" fill="#ff0000"/>
<circle cx="58.52" cy="279.18" r="1.5" fill="#ff0000"/>
<circle cx="59.69" cy="278.25" r="1.5" fill="#ff0000"/>
<circle cx="60.84" cy="277.28" r="1.5" fill="#ff0000"/>
<circle cx="61.92" cy="276.24" r="1.5" fill="#ff0000"/>
<circle cx="63" cy="275.2" r="1.5" fill="#ff0000"/>
<circle cx="63" cy="275.2" r="1.45" fill="#ff0000"/>
<circle cx="65.43" cy="273.1" r="1.45" fill="#ff0000"/>
<circle cx="67.87" cy="271.01" r="1.45" fill="#ff0000"/>
<circle cx="70.39" cy="269.04" r="1.45" fill="#ff0000"/>
<circle cx="73.37" cy="267.85" r="1.45" fill="#ff0000"/>
<circle cx="76.34" cy="266.61" r="1.45" fill="#ff0000"/>
<circle cx="79.28" cy="265.32" r="1.45" fill="#ff0000"/>
<circle cx="82.21" cy="264" r="1.45" fill="#ff0000"/>
<circle cx="85.21" cy="262.88" r="1.45" fill="#ff0000"/>
<circle cx="88.32" cy="262.07" r="1.45" fill="#ff0000"/>
<circle cx="91.5" cy="261.6" r="1.45" fill="#ff0000"/>
<circle cx="91.5" cy="261.6" r="1.45" fill="#ff0000"/>
<circle cx="94.6" cy="261.8" r="1.45" fill="#ff0000"/>
<circle cx="98.6" cy="262.7" r="1.45" fill="#ff0000"/>
<circle cx="102.1" cy="264.1" r="1.45" fill="#ff0000"/>
<circle cx="105.2" cy="265.8" r="1.45" fill="#ff0000"/>
<circle cx="108.1" cy="268.3" r="1.45" fill="#ff0000"/>
<circle cx="110.5" cy="271.5" r="1.45" fill="#ff0000"/>
<circle cx="112.4" cy="275.2" r="1.45" fill="#ff0000"/>
<circle cx="113" cy="278.5" r="1.45" fill="#ff0000"/>
<polyline points="59.2,288.6 59.6,285 60.2,282 61.2,279.5 62.4,277.4 63.6,275.6" fill="none" stroke="#0000ff" stroke-width="2.6" stroke-linejoin="round" stroke-linecap="round" />
<polygon points="57.65,290 60.75,290 59.2,287.21" fill="#0000ff"/>
<polygon points="57.8,288.61 60.9,288.61 59.35,285.82" fill="#0000ff"/>
<polygon points="57.96,287.22 61.06,287.22 59.51,284.43" fill="#0000ff"/>
<polygon points="58.16,285.84 61.26,285.84 59.71,283.05" fill="#0000ff"/>
<polygon points="58.43,284.47 61.53,284.47 59.98,281.68" fill="#0000ff"/>
<polygon points="58.76,283.12 61.86,283.12 60.31,280.33" fill="#0000ff"/>
<polygon points="59.28,281.82 62.38,281.82 60.83,279.03" fill="#0000ff"/>
<polygon points="59.85,280.55 62.95,280.55 61.4,277.76" fill="#0000ff"/>
<polygon points="60.54,279.34 63.64,279.34 62.09,276.55" fill="#0000ff"/>
<polygon points="61.28,278.16 64.38,278.16 62.83,275.37" fill="#0000ff"/>
<polygon points="62.05,277 65.15,277 63.6,274.21" fill="#0000ff"/>
<polygon points="61.75,277.27 65.45,277.27 63.6,273.94" fill="#0000ff"/>
<polygon points="63.33,275.03 67.03,275.03 65.18,271.7" fill="#0000ff"/>
<polygon points="65.05,272.92 68.75,272.92 66.9,269.59" fill="#0000ff"/>
<polygon points="66.94,270.93 70.64,270.93 68.79,267.6" fill="#0000ff"/>
<polygon points="68.98,269.14 72.68,269.14 70.83,265.81" fill="#0000ff"/>
<polygon points="71.28,267.66 74.98,267.66 73.13,264.33" fill="#0000ff"/>
<polygon points="73.62,266.26 77.32,266.26 75.47,262.93" fill="#0000ff"/>
<polygon points="76.13,265.15 79.83,265.15 77.98,261.82" fill="#0000ff"/>
<polygon points="78.64,264.07 82.34,264.07 80.49,260.74" fill="#0000ff"/>
<polygon points="81.18,263.05 84.88,263.05 83.03,259.72" fill="#0000ff"/>
<polygon points="83.73,262.07 87.43,262.07 85.58,258.74" fill="#0000ff"/>
<polygon points="86.3,261.11 90,261.11 88.15,257.78" fill="#0000ff"/>
<polygon points="88.88,260.21 92.58,260.21 90.73,256.88" fill="#0000ff"/>
<polygon points="91.47,259.34 95.17,259.34 93.32,256.01" fill="#0000ff"/>
<polygon points="94.07,258.49 97.77,258.49 95.92,255.16" fill="#0000ff"/>
<polygon points="96.65,257.56 100.35,257.56 98.5,254.24" fill="#0000ff"/>
<polygon points="99.85,256.19 103.15,256.19 101.5,253.21" fill="#0000ff"/>
<polygon points="102.85,254.69 106.15,254.69 104.5,251.71" fill="#0000ff"/>
<polygon points="105.85,253.29 109.15,253.29 107.5,250.31" fill="#0000ff"/>
<polygon points="108.65,251.69 111.95,251.69 110.3,248.71" fill="#0000ff"/>
<polygon points="111.55,249.89 114.85,249.89 113.2,246.91" fill="#0000ff"/>
<polygon points="114.45,248.29 117.75,248.29 116.1,245.31" fill="#0000ff"/>
<polygon points="117.45,246.99 120.75,246.99 119.1,244.01" fill="#0000ff"/>
<polygon points="120.85,245.89 124.15,245.89 122.5,242.91" fill="#0000ff"/>
<polygon points="124.35,243.99 127.65,243.99 126,241.01" fill="#0000ff"/>
<polygon points="127.85,240.19 131.15,240.19 129.5,237.21" fill="#0000ff"/>
<polygon points="131.85,236.49 135.15,236.49 133.5,233.51" fill="#0000ff"/>
<polygon points="135.85,231.69 139.15,231.69 137.5,228.71" fill="#0000ff"/>
<polygon points="139.85,226.09 143.15,226.09 141.5,223.11" fill="#0000ff"/>
<polygon points="144.85,219.69 148.15,219.69 146.5,216.71" fill="#0000ff"/>
<polygon points="149.85,213.49 153.15,213.49 151.5,210.51" fill="#0000ff"/>
<polygon points="156.35,205.69 159.65,205.69 158,202.71" fill="#0000ff"/>
<polygon points="164.35,197.19 167.65,197.19 166,194.21" fill="#0000ff"/>
<polygon points="173.35,188.49 176.65,188.49 175,185.51" fill="#0000ff"/>
<rect x="35.4" y="164.2" width="2.6" height="2.6" fill="#000"/>
<circle cx="36.7" cy="174" r="1.6" fill="#ff0000"/>
<polygon points="35,184.03 38.4,184.03 36.7,180.97" fill="#0000ff"/>
<text x="45.8" y="168.15" font-size="7.8" fill="#000" stroke="#000" textLength="68.2" lengthAdjust="spacingAndGlyphs" >RuO<tspan font-size="4.99" dy="2.5">2</tspan><tspan dy="-2.5">@IrO<tspan font-size="4.99" dy="2.5">2</tspan><tspan dy="-2.5">/C-200 &#176;C</tspan></tspan></text>
<text x="45.8" y="176.65" font-size="7.8" fill="#000" stroke="#000" textLength="68.2" lengthAdjust="spacingAndGlyphs" >RuO<tspan font-size="4.99" dy="2.5">2</tspan><tspan dy="-2.5">@IrO<tspan font-size="4.99" dy="2.5">2</tspan><tspan dy="-2.5">/C-300 &#176;C</tspan></tspan></text>
<text x="45.8" y="185.15" font-size="7.8" fill="#000" stroke="#000" textLength="68.2" lengthAdjust="spacingAndGlyphs" >RuO<tspan font-size="4.99" dy="2.5">2</tspan><tspan dy="-2.5">@IrO<tspan font-size="4.99" dy="2.5">2</tspan><tspan dy="-2.5">/C-400 &#176;C</tspan></tspan></text>
<line x1="40" y1="199.6" x2="52" y2="199.6" stroke="#333" stroke-width="0.6" />
<polyline points="52,199.6 53,198.1 55,201.1 57,198.1 59,201.1 61,198.1 63,201.1 64,199.6" fill="none" stroke="#333" stroke-width="0.6" stroke-linejoin="round" stroke-linecap="round" />
<line x1="64" y1="199.6" x2="78.9" y2="199.6" stroke="#333" stroke-width="0.6" />
<polyline points="78.9,199.6 79.93,198.1 82,201.1 84.07,198.1 86.13,201.1 88.2,198.1 90.27,201.1 91.3,199.6" fill="none" stroke="#333" stroke-width="0.6" stroke-linejoin="round" stroke-linecap="round" />
<line x1="91.3" y1="199.6" x2="105.5" y2="199.6" stroke="#333" stroke-width="0.6" />
<polyline points="105.5,199.6 106.58,198.1 108.75,201.1 110.92,198.1 113.08,201.1 115.25,198.1 117.42,201.1 118.5,199.6" fill="none" stroke="#333" stroke-width="0.6" stroke-linejoin="round" stroke-linecap="round" />
<line x1="118.5" y1="199.6" x2="131" y2="199.6" stroke="#333" stroke-width="0.6" />
<line x1="74.4" y1="199.6" x2="74.4" y2="208.3" stroke="#333" stroke-width="0.6" />
<line x1="95.8" y1="199.6" x2="95.8" y2="208.3" stroke="#333" stroke-width="0.6" />
<line x1="74.4" y1="208.3" x2="82.6" y2="208.3" stroke="#333" stroke-width="0.6" />
<line x1="86.4" y1="208.3" x2="95.8" y2="208.3" stroke="#333" stroke-width="0.6" />
<polyline points="82.6,207 84,208.3 82.6,209.6" fill="none" stroke="#333" stroke-width="0.6" stroke-linejoin="round" stroke-linecap="round" />
<polyline points="85.2,207 86.6,208.3 85.2,209.6" fill="none" stroke="#333" stroke-width="0.6" stroke-linejoin="round" stroke-linecap="round" />
<circle cx="74.4" cy="199.6" r="1.15" fill="#000"/>
<text x="83.9" y="196.32" font-size="3" fill="#444" stroke="#444" text-anchor="middle" font-weight="normal" >Rsei</text>
<text x="84.9" y="205.82" font-size="3" fill="#444" stroke="#444" text-anchor="middle" font-weight="normal" >CPEsei</text>
<line x1="101.3" y1="199.6" x2="101.3" y2="208.3" stroke="#333" stroke-width="0.6" />
<line x1="122.6" y1="199.6" x2="122.6" y2="208.3" stroke="#333" stroke-width="0.6" />
<line x1="101.3" y1="208.3" x2="109.5" y2="208.3" stroke="#333" stroke-width="0.6" />
<line x1="113.3" y1="208.3" x2="122.6" y2="208.3" stroke="#333" stroke-width="0.6" />
<polyline points="109.5,207 110.9,208.3 109.5,209.6" fill="none" stroke="#333" stroke-width="0.6" stroke-linejoin="round" stroke-linecap="round" />
<polyline points="112.1,207 113.5,208.3 112.1,209.6" fill="none" stroke="#333" stroke-width="0.6" stroke-linejoin="round" stroke-linecap="round" />
<circle cx="101.3" cy="199.6" r="1.15" fill="#000"/>
<text x="110.8" y="196.32" font-size="3" fill="#444" stroke="#444" text-anchor="middle" font-weight="normal" >Rsei</text>
<text x="111.8" y="205.82" font-size="3" fill="#444" stroke="#444" text-anchor="middle" font-weight="normal" >CPEsei</text>
<text x="58" y="196.32" font-size="3" fill="#444" stroke="#444" text-anchor="middle" font-weight="normal" >Rs</text>
<line x1="212" y1="287" x2="212" y2="285" stroke="#222" stroke-width="0.8" />
<line x1="238.8" y1="287" x2="238.8" y2="285" stroke="#222" stroke-width="0.8" />
<line x1="265.6" y1="287" x2="265.6" y2="285" stroke="#222" stroke-width="0.8" />
<line x1="292.4" y1="287" x2="292.4" y2="285" stroke="#222" stroke-width="0.8" />
<line x1="319.2" y1="287" x2="319.2" y2="285" stroke="#222" stroke-width="0.8" />
<line x1="346" y1="287" x2="346" y2="285" stroke="#222" stroke-width="0.8" />
<line x1="225.4" y1="287" x2="225.4" y2="285.8" stroke="#222" stroke-width="0.8" />
<line x1="252.2" y1="287" x2="252.2" y2="285.8" stroke="#222" stroke-width="0.8" />
<line x1="279" y1="287" x2="279" y2="285.8" stroke="#222" stroke-width="0.8" />
<line x1="305.8" y1="287" x2="305.8" y2="285.8" stroke="#222" stroke-width="0.8" />
<line x1="332.6" y1="287" x2="332.6" y2="285.8" stroke="#222" stroke-width="0.8" />
<line x1="212.5" y1="287" x2="214.3" y2="287" stroke="#222" stroke-width="0.8" />
<line x1="212.5" y1="254.5" x2="214.3" y2="254.5" stroke="#222" stroke-width="0.8" />
<line x1="212.5" y1="222" x2="214.3" y2="222" stroke="#222" stroke-width="0.8" />
<line x1="212.5" y1="189.5" x2="214.3" y2="189.5" stroke="#222" stroke-width="0.8" />
<line x1="212.5" y1="157" x2="214.3" y2="157" stroke="#222" stroke-width="0.8" />
<line x1="212.5" y1="270.75" x2="213.7" y2="270.75" stroke="#222" stroke-width="0.8" />
<line x1="212.5" y1="238.25" x2="213.7" y2="238.25" stroke="#222" stroke-width="0.8" />
<line x1="212.5" y1="205.75" x2="213.7" y2="205.75" stroke="#222" stroke-width="0.8" />
<line x1="212.5" y1="173.25" x2="213.7" y2="173.25" stroke="#222" stroke-width="0.8" />
<rect x="212.5" y="157" width="146.2" height="130" fill="none" stroke="#6a6a6a" stroke-width="1.5"/>
<line x1="212.5" y1="287" x2="358.7" y2="287" stroke="#111" stroke-width="1.1" />
<text x="209.2" y="289.04" font-size="6" fill="#333" stroke="#333" text-anchor="end" >0</text>
<text x="209.2" y="256.54" font-size="6" fill="#333" stroke="#333" text-anchor="end" >10</text>
<text x="209.2" y="224.04" font-size="6" fill="#333" stroke="#333" text-anchor="end" >20</text>
<text x="209.2" y="191.54" font-size="6" fill="#333" stroke="#333" text-anchor="end" >30</text>
<text x="209.2" y="159.04" font-size="6" fill="#333" stroke="#333" text-anchor="end" >40</text>
<text x="212" y="295.64" font-size="6" fill="#222" stroke="#222" text-anchor="middle" >1.0</text>
<text x="238.8" y="295.64" font-size="6" fill="#222" stroke="#222" text-anchor="middle" >1.2</text>
<text x="265.6" y="295.64" font-size="6" fill="#222" stroke="#222" text-anchor="middle" >1.4</text>
<text x="292.4" y="295.64" font-size="6" fill="#222" stroke="#222" text-anchor="middle" >1.6</text>
<text x="319.2" y="295.64" font-size="6" fill="#222" stroke="#222" text-anchor="middle" >1.8</text>
<text x="346" y="295.64" font-size="6" fill="#222" stroke="#222" text-anchor="middle" >2.0</text>
<text x="253.8" y="307.58" font-size="7.3" fill="#222" stroke="#222" textLength="52.8" lengthAdjust="spacingAndGlyphs" >Overall&#160;&#160;Voltage (V)</text>
<text x="194.3" y="221.11" font-size="6.2" fill="#333" stroke="#333" text-anchor="middle" textLength="33" lengthAdjust="spacingAndGlyphs" transform="rotate(-90 194.3 219)" >j (mA/cm<tspan font-size="3.72" dy="-2.28">2</tspan><tspan dy="2.28">)</tspan></text>
<text x="190.7" y="162.9" font-size="12.5" stroke="#000">e</text>
<polyline points="213,287 240,286.6 260,286.2 272,285.9 275,285.2 277,284 279,281.5 283,275.5 288,267 293,258.5 298,249.8 302,245.2 303.2,242.3 310,229 320,211.5 329,195 338.5,176.7 345.7,161.9" fill="none" stroke="#222" stroke-width="1" stroke-linejoin="round" stroke-linecap="round" />
<polyline points="214,287 220,286.2 240,285.6 255,285.1 262,284.2 266,283.3 270,281.6 273,279.2 276,276 280,270.5 285,263 290,254.5 294,247.2 300,236.5 310,218.8 323,195 330,181.5 341.8,157" fill="none" stroke="#19e619" stroke-width="1" stroke-linejoin="round" stroke-linecap="round" />
<polyline points="212.8,280 214,282.6 216,284 220,284.6 240,284.5 255,284 262,284 267,283.6 271,282.2 274,279.8 277,276.3 281,270.5 286,263 291,254.5 295,247.2 301,236.5 311,218.8 324.5,195 331.5,181.5 345.7,157" fill="none" stroke="#1a1aff" stroke-width="1" stroke-linejoin="round" stroke-linecap="round" />
<line x1="214.5" y1="162.8" x2="231.5" y2="162.8" stroke="#111" stroke-width="1.3" />
<text x="233" y="165.38" font-size="7.6" fill="#222" stroke="#222" textLength="70.6" lengthAdjust="spacingAndGlyphs" >Pt/C&#8214;Commercial IrO<tspan font-size="4.86" dy="2.43">2</tspan><tspan dy="-2.43"></tspan></text>
<line x1="214.5" y1="175.9" x2="231.5" y2="175.9" stroke="#19e619" stroke-width="1.3" />
<text x="233" y="178.48" font-size="7.6" fill="#222" stroke="#222" textLength="62.6" lengthAdjust="spacingAndGlyphs" >Pt/C&#8214;RuO<tspan font-size="4.86" dy="2.43">2</tspan><tspan dy="-2.43">@IrO<tspan font-size="4.86" dy="2.43">2</tspan><tspan dy="-2.43">/C</tspan></tspan></text>
<line x1="214.5" y1="188.1" x2="231.5" y2="188.1" stroke="#1a1aff" stroke-width="1.3" />
<text x="233" y="190.68" font-size="7.6" fill="#222" stroke="#222" textLength="73.5" lengthAdjust="spacingAndGlyphs" >Pt/C&#8214;Commercial RuO<tspan font-size="4.86" dy="2.43">2</tspan><tspan dy="-2.43"></tspan></text>
<line x1="396.5" y1="287" x2="396.5" y2="285" stroke="#222" stroke-width="0.8" />
<line x1="422.8" y1="287" x2="422.8" y2="285" stroke="#222" stroke-width="0.8" />
<line x1="449.1" y1="287" x2="449.1" y2="285" stroke="#222" stroke-width="0.8" />
<line x1="475.4" y1="287" x2="475.4" y2="285" stroke="#222" stroke-width="0.8" />
<line x1="501.7" y1="287" x2="501.7" y2="285" stroke="#222" stroke-width="0.8" />
<line x1="528" y1="287" x2="528" y2="285" stroke="#222" stroke-width="0.8" />
<line x1="409.65" y1="287" x2="409.65" y2="285.8" stroke="#222" stroke-width="0.8" />
<line x1="435.95" y1="287" x2="435.95" y2="285.8" stroke="#222" stroke-width="0.8" />
<line x1="462.25" y1="287" x2="462.25" y2="285.8" stroke="#222" stroke-width="0.8" />
<line x1="488.55" y1="287" x2="488.55" y2="285.8" stroke="#222" stroke-width="0.8" />
<line x1="514.85" y1="287" x2="514.85" y2="285.8" stroke="#222" stroke-width="0.8" />
<line x1="541.15" y1="287" x2="541.15" y2="285.8" stroke="#222" stroke-width="0.8" />
<line x1="396.5" y1="287" x2="398.5" y2="287" stroke="#222" stroke-width="0.8" />
<line x1="396.5" y1="269.65" x2="398.5" y2="269.65" stroke="#222" stroke-width="0.8" />
<line x1="396.5" y1="252.3" x2="398.5" y2="252.3" stroke="#222" stroke-width="0.8" />
<line x1="396.5" y1="234.95" x2="398.5" y2="234.95" stroke="#222" stroke-width="0.8" />
<line x1="396.5" y1="217.6" x2="398.5" y2="217.6" stroke="#222" stroke-width="0.8" />
<line x1="396.5" y1="200.25" x2="398.5" y2="200.25" stroke="#222" stroke-width="0.8" />
<line x1="396.5" y1="182.9" x2="398.5" y2="182.9" stroke="#222" stroke-width="0.8" />
<line x1="396.5" y1="165.55" x2="398.5" y2="165.55" stroke="#222" stroke-width="0.8" />
<line x1="396.5" y1="278.32" x2="397.7" y2="278.32" stroke="#222" stroke-width="0.8" />
<line x1="396.5" y1="260.98" x2="397.7" y2="260.98" stroke="#222" stroke-width="0.8" />
<line x1="396.5" y1="243.62" x2="397.7" y2="243.62" stroke="#222" stroke-width="0.8" />
<line x1="396.5" y1="226.28" x2="397.7" y2="226.28" stroke="#222" stroke-width="0.8" />
<line x1="396.5" y1="208.93" x2="397.7" y2="208.93" stroke="#222" stroke-width="0.8" />
<line x1="396.5" y1="191.57" x2="397.7" y2="191.57" stroke="#222" stroke-width="0.8" />
<line x1="396.5" y1="174.23" x2="397.7" y2="174.23" stroke="#222" stroke-width="0.8" />
<line x1="396.5" y1="156.88" x2="397.7" y2="156.88" stroke="#222" stroke-width="0.8" />
<rect x="396.5" y="157" width="145" height="130" fill="none" stroke="#222" stroke-width="1.3"/>
<text x="394.2" y="289.04" font-size="6" fill="#000" stroke="#000" text-anchor="end" >1.3</text>
<text x="394.2" y="271.69" font-size="6" fill="#000" stroke="#000" text-anchor="end" >1.4</text>
<text x="394.2" y="254.34" font-size="6" fill="#000" stroke="#000" text-anchor="end" >1.5</text>
<text x="394.2" y="236.99" font-size="6" fill="#000" stroke="#000" text-anchor="end" >1.6</text>
<text x="394.2" y="219.64" font-size="6" fill="#000" stroke="#000" text-anchor="end" >1.7</text>
<text x="394.2" y="202.29" font-size="6" fill="#000" stroke="#000" text-anchor="end" >1.8</text>
<text x="394.2" y="184.94" font-size="6" fill="#000" stroke="#000" text-anchor="end" >1.9</text>
<text x="394.2" y="167.59" font-size="6" fill="#000" stroke="#000" text-anchor="end" >2.0</text>
<text x="396.5" y="295.24" font-size="6" fill="#000" stroke="#000" text-anchor="middle" >0</text>
<text x="422.8" y="295.24" font-size="6" fill="#000" stroke="#000" text-anchor="middle" >200</text>
<text x="449.1" y="295.24" font-size="6" fill="#000" stroke="#000" text-anchor="middle" >400</text>
<text x="475.4" y="295.24" font-size="6" fill="#000" stroke="#000" text-anchor="middle" >600</text>
<text x="501.7" y="295.24" font-size="6" fill="#000" stroke="#000" text-anchor="middle" >800</text>
<text x="528" y="295.24" font-size="6" fill="#000" stroke="#000" text-anchor="middle" >1000</text>
<text x="436.4" y="304.28" font-size="7" fill="#000" stroke="#000" textLength="66.2" lengthAdjust="spacingAndGlyphs" >Current density(mA/cm<tspan font-size="4.34" dy="-2.66">2</tspan><tspan dy="2.66">)</tspan></text>
<text x="381" y="215.98" font-size="6.4" fill="#000" stroke="#000" text-anchor="middle" textLength="33.5" lengthAdjust="spacingAndGlyphs" transform="rotate(-90 381 213.8)" >Cell Voltage(V)</text>
<text x="377.6" y="167.1" font-size="13.5" stroke="#000">f</text>
<polyline points="396.8,273 397.5,271 399,269.2 400.7,267.6 402.8,266.2 405.3,264 408.9,261 422.8,251.7 435.95,243.6 449.1,236 462.25,228.6 475.4,221.4 488.55,214.4 501.7,206.3 514.85,198 528,188.3" fill="none" stroke="#333" stroke-width="0.9" stroke-linejoin="round" stroke-linecap="round" />
<rect x="395.5" y="271.7" width="2.6" height="2.6" fill="#000"/>
<rect x="396.2" y="269.7" width="2.6" height="2.6" fill="#000"/>
<rect x="397.7" y="267.9" width="2.6" height="2.6" fill="#000"/>
<rect x="399.4" y="266.3" width="2.6" height="2.6" fill="#000"/>
<rect x="401.5" y="264.9" width="2.6" height="2.6" fill="#000"/>
<rect x="404" y="262.7" width="2.6" height="2.6" fill="#000"/>
<rect x="407.6" y="259.7" width="2.6" height="2.6" fill="#000"/>
<rect x="421.5" y="250.4" width="2.6" height="2.6" fill="#000"/>
<rect x="434.65" y="242.3" width="2.6" height="2.6" fill="#000"/>
<rect x="447.8" y="234.7" width="2.6" height="2.6" fill="#000"/>
<rect x="460.95" y="227.3" width="2.6" height="2.6" fill="#000"/>
<rect x="474.1" y="220.1" width="2.6" height="2.6" fill="#000"/>
<rect x="487.25" y="213.1" width="2.6" height="2.6" fill="#000"/>
<rect x="500.4" y="205" width="2.6" height="2.6" fill="#000"/>
<rect x="513.55" y="196.7" width="2.6" height="2.6" fill="#000"/>
<rect x="526.7" y="187" width="2.6" height="2.6" fill="#000"/>
<polyline points="396.8,271.5 397.5,269.6 399,267.6 400.7,266 402.8,264.6 405.3,262.3 408.9,259.3 422.8,249 435.95,240.3 449.1,231.6 462.25,223 475.4,214 488.55,204 501.7,192 514.85,178.5 528,167.2" fill="none" stroke="#ff4d4d" stroke-width="0.9" stroke-linejoin="round" stroke-linecap="round" />
<circle cx="396.8" cy="271.5" r="1.5" fill="#ff2020"/>
<circle cx="397.5" cy="269.6" r="1.5" fill="#ff2020"/>
<circle cx="399" cy="267.6" r="1.5" fill="#ff2020"/>
<circle cx="400.7" cy="266" r="1.5" fill="#ff2020"/>
<circle cx="402.8" cy="264.6" r="1.5" fill="#ff2020"/>
<circle cx="405.3" cy="262.3" r="1.5" fill="#ff2020"/>
<circle cx="408.9" cy="259.3" r="1.5" fill="#ff2020"/>
<circle cx="422.8" cy="249" r="1.5" fill="#ff2020"/>
<circle cx="435.95" cy="240.3" r="1.5" fill="#ff2020"/>
<circle cx="449.1" cy="231.6" r="1.5" fill="#ff2020"/>
<circle cx="462.25" cy="223" r="1.5" fill="#ff2020"/>
<circle cx="475.4" cy="214" r="1.5" fill="#ff2020"/>
<circle cx="488.55" cy="204" r="1.5" fill="#ff2020"/>
<circle cx="501.7" cy="192" r="1.5" fill="#ff2020"/>
<circle cx="514.85" cy="178.5" r="1.5" fill="#ff2020"/>
<circle cx="528" cy="167.2" r="1.5" fill="#ff2020"/>
<polyline points="396.8,276.5 397.5,275.6 399,272.6 400.7,269.6 402.8,267.6 405.3,265.5 408.9,263 422.8,254.6 435.95,248.3 449.1,242 462.25,236.4 475.4,230 488.55,224.4 501.7,218 514.85,211.6 528,206" fill="none" stroke="#2a7fff" stroke-width="0.9" stroke-linejoin="round" stroke-linecap="round" />
<polygon points="395.15,277.99 398.45,277.99 396.8,275.01" fill="#1a6fff"/>
<polygon points="395.85,277.09 399.15,277.09 397.5,274.12" fill="#1a6fff"/>
<polygon points="397.35,274.09 400.65,274.09 399,271.12" fill="#1a6fff"/>
<polygon points="399.05,271.09 402.35,271.09 400.7,268.12" fill="#1a6fff"/>
<polygon points="401.15,269.09 404.45,269.09 402.8,266.12" fill="#1a6fff"/>
<polygon points="403.65,266.99 406.95,266.99 405.3,264.01" fill="#1a6fff"/>
<polygon points="407.25,264.49 410.55,264.49 408.9,261.51" fill="#1a6fff"/>
<polygon points="421.15,256.08 424.45,256.08 422.8,253.11" fill="#1a6fff"/>
<polygon points="434.3,249.79 437.6,249.79 435.95,246.81" fill="#1a6fff"/>
<polygon points="447.45,243.49 450.75,243.49 449.1,240.51" fill="#1a6fff"/>
<polygon points="460.6,237.89 463.9,237.89 462.25,234.91" fill="#1a6fff"/>
<polygon points="473.75,231.49 477.05,231.49 475.4,228.51" fill="#1a6fff"/>
<polygon points="486.9,225.89 490.2,225.89 488.55,222.91" fill="#1a6fff"/>
<polygon points="500.05,219.49 503.35,219.49 501.7,216.51" fill="#1a6fff"/>
<polygon points="513.2,213.09 516.5,213.09 514.85,210.11" fill="#1a6fff"/>
<polygon points="526.35,207.49 529.65,207.49 528,204.51" fill="#1a6fff"/>
<line x1="400" y1="164" x2="414" y2="164" stroke="#555" stroke-width="0.9" />
<circle cx="407" cy="164" r="1.4" fill="#000"/>
<text x="416.4" y="166.52" font-size="7.4" fill="#000" stroke="#000" textLength="57.6" lengthAdjust="spacingAndGlyphs" >Commercial-RuO<tspan font-size="4.74" dy="2.37">2</tspan><tspan dy="-2.37"></tspan></text>
<line x1="400" y1="172" x2="414" y2="172" stroke="#ff8080" stroke-width="0.9" />
<circle cx="407" cy="172" r="1.4" fill="#ff2020"/>
<text x="416.4" y="174.52" font-size="7.4" fill="#000" stroke="#000" textLength="53.6" lengthAdjust="spacingAndGlyphs" >Commercial-IrO<tspan font-size="4.74" dy="2.37">2</tspan><tspan dy="-2.37"></tspan></text>
<line x1="400" y1="180.2" x2="414" y2="180.2" stroke="#3d8bff" stroke-width="0.9" />
<polygon points="405.5,181.55 408.5,181.55 407,178.85" fill="#1a6fff"/>
<text x="416.4" y="182.72" font-size="7.4" fill="#000" stroke="#000" textLength="44.2" lengthAdjust="spacingAndGlyphs" >RuO<tspan font-size="4.74" dy="2.37">2</tspan><tspan dy="-2.37">@IrO<tspan font-size="4.74" dy="2.37">2</tspan><tspan dy="-2.37">/C</tspan></tspan></text>
<line x1="48" y1="482.1" x2="54" y2="482.1" stroke="#000" stroke-width="1.4" />
<line x1="48" y1="468.5" x2="54" y2="468.5" stroke="#000" stroke-width="1.4" />
<line x1="48" y1="454.9" x2="54" y2="454.9" stroke="#000" stroke-width="1.4" />
<line x1="48" y1="441.3" x2="54" y2="441.3" stroke="#000" stroke-width="1.4" />
<line x1="48" y1="427.7" x2="54" y2="427.7" stroke="#000" stroke-width="1.4" />
<line x1="48" y1="414.1" x2="54" y2="414.1" stroke="#000" stroke-width="1.4" />
<line x1="48" y1="400.5" x2="54" y2="400.5" stroke="#000" stroke-width="1.4" />
<line x1="48" y1="386.9" x2="54" y2="386.9" stroke="#000" stroke-width="1.4" />
<line x1="48" y1="373.3" x2="54" y2="373.3" stroke="#000" stroke-width="1.4" />
<line x1="48" y1="359.7" x2="54" y2="359.7" stroke="#000" stroke-width="1.4" />
<line x1="48" y1="346.1" x2="54" y2="346.1" stroke="#000" stroke-width="1.4" />
<line x1="48" y1="332.5" x2="54" y2="332.5" stroke="#000" stroke-width="1.4" />
<line x1="48" y1="475.3" x2="51.5" y2="475.3" stroke="#000" stroke-width="1.4" />
<line x1="48" y1="461.7" x2="51.5" y2="461.7" stroke="#000" stroke-width="1.4" />
<line x1="48" y1="448.1" x2="51.5" y2="448.1" stroke="#000" stroke-width="1.4" />
<line x1="48" y1="434.5" x2="51.5" y2="434.5" stroke="#000" stroke-width="1.4" />
<line x1="48" y1="420.9" x2="51.5" y2="420.9" stroke="#000" stroke-width="1.4" />
<line x1="48" y1="407.3" x2="51.5" y2="407.3" stroke="#000" stroke-width="1.4" />
<line x1="48" y1="393.7" x2="51.5" y2="393.7" stroke="#000" stroke-width="1.4" />
<line x1="48" y1="380.1" x2="51.5" y2="380.1" stroke="#000" stroke-width="1.4" />
<line x1="48" y1="366.5" x2="51.5" y2="366.5" stroke="#000" stroke-width="1.4" />
<line x1="48" y1="352.9" x2="51.5" y2="352.9" stroke="#000" stroke-width="1.4" />
<line x1="48" y1="339.3" x2="51.5" y2="339.3" stroke="#000" stroke-width="1.4" />
<line x1="47.7" y1="482" x2="47.7" y2="476.5" stroke="#000" stroke-width="1.4" />
<line x1="96.98" y1="482" x2="96.98" y2="476.5" stroke="#000" stroke-width="1.4" />
<line x1="146.26" y1="482" x2="146.26" y2="476.5" stroke="#000" stroke-width="1.4" />
<line x1="195.54" y1="482" x2="195.54" y2="476.5" stroke="#000" stroke-width="1.4" />
<line x1="244.82" y1="482" x2="244.82" y2="476.5" stroke="#000" stroke-width="1.4" />
<line x1="294.1" y1="482" x2="294.1" y2="476.5" stroke="#000" stroke-width="1.4" />
<line x1="343.38" y1="482" x2="343.38" y2="476.5" stroke="#000" stroke-width="1.4" />
<line x1="392.66" y1="482" x2="392.66" y2="476.5" stroke="#000" stroke-width="1.4" />
<line x1="441.94" y1="482" x2="441.94" y2="476.5" stroke="#000" stroke-width="1.4" />
<line x1="491.22" y1="482" x2="491.22" y2="476.5" stroke="#000" stroke-width="1.4" />
<line x1="540.5" y1="482" x2="540.5" y2="476.5" stroke="#000" stroke-width="1.4" />
<line x1="72.34" y1="482" x2="72.34" y2="478.7" stroke="#000" stroke-width="1.4" />
<line x1="121.62" y1="482" x2="121.62" y2="478.7" stroke="#000" stroke-width="1.4" />
<line x1="170.9" y1="482" x2="170.9" y2="478.7" stroke="#000" stroke-width="1.4" />
<line x1="220.18" y1="482" x2="220.18" y2="478.7" stroke="#000" stroke-width="1.4" />
<line x1="269.46" y1="482" x2="269.46" y2="478.7" stroke="#000" stroke-width="1.4" />
<line x1="318.74" y1="482" x2="318.74" y2="478.7" stroke="#000" stroke-width="1.4" />
<line x1="368.02" y1="482" x2="368.02" y2="478.7" stroke="#000" stroke-width="1.4" />
<line x1="417.3" y1="482" x2="417.3" y2="478.7" stroke="#000" stroke-width="1.4" />
<line x1="466.58" y1="482" x2="466.58" y2="478.7" stroke="#000" stroke-width="1.4" />
<line x1="515.86" y1="482" x2="515.86" y2="478.7" stroke="#000" stroke-width="1.4" />
<rect x="48" y="332.5" width="493" height="149.5" fill="none" stroke="#000" stroke-width="1.5"/>
<text x="41.2" y="484.82" font-size="8" fill="#000" stroke="#000" text-anchor="end" >1.3</text>
<text x="41.2" y="471.22" font-size="8" fill="#000" stroke="#000" text-anchor="end" >1.4</text>
<text x="41.2" y="457.62" font-size="8" fill="#000" stroke="#000" text-anchor="end" >1.5</text>
<text x="41.2" y="444.02" font-size="8" fill="#000" stroke="#000" text-anchor="end" >1.6</text>
<text x="41.2" y="430.42" font-size="8" fill="#000" stroke="#000" text-anchor="end" >1.7</text>
<text x="41.2" y="416.82" font-size="8" fill="#000" stroke="#000" text-anchor="end" >1.8</text>
<text x="41.2" y="403.22" font-size="8" fill="#000" stroke="#000" text-anchor="end" >1.9</text>
<text x="41.2" y="389.62" font-size="8" fill="#000" stroke="#000" text-anchor="end" >2.0</text>
<text x="41.2" y="376.02" font-size="8" fill="#000" stroke="#000" text-anchor="end" >2.1</text>
<text x="41.2" y="362.42" font-size="8" fill="#000" stroke="#000" text-anchor="end" >2.2</text>
<text x="41.2" y="348.82" font-size="8" fill="#000" stroke="#000" text-anchor="end" >2.3</text>
<text x="41.2" y="335.22" font-size="8" fill="#000" stroke="#000" text-anchor="end" >2.4</text>
<text x="47.7" y="495.72" font-size="8" fill="#000" stroke="#000" text-anchor="middle" >0</text>
<text x="96.98" y="495.72" font-size="8" fill="#000" stroke="#000" text-anchor="middle" >20</text>
<text x="146.26" y="495.72" font-size="8" fill="#000" stroke="#000" text-anchor="middle" >40</text>
<text x="195.54" y="495.72" font-size="8" fill="#000" stroke="#000" text-anchor="middle" >60</text>
<text x="244.82" y="495.72" font-size="8" fill="#000" stroke="#000" text-anchor="middle" >80</text>
<text x="294.1" y="495.72" font-size="8" fill="#000" stroke="#000" text-anchor="middle" >100</text>
<text x="343.38" y="495.72" font-size="8" fill="#000" stroke="#000" text-anchor="middle" >120</text>
<text x="392.66" y="495.72" font-size="8" fill="#000" stroke="#000" text-anchor="middle" >140</text>
<text x="441.94" y="495.72" font-size="8" fill="#000" stroke="#000" text-anchor="middle" >160</text>
<text x="491.22" y="495.72" font-size="8" fill="#000" stroke="#000" text-anchor="middle" >180</text>
<text x="540.5" y="495.72" font-size="8" fill="#000" stroke="#000" text-anchor="middle" >200</text>
<text x="264.6" y="517.6" font-size="10.6" fill="#000" stroke="#000" textLength="36.9" lengthAdjust="spacingAndGlyphs" >Time(h)</text>
<text x="9.2" y="401.11" font-size="11.2" fill="#000" stroke="#000" text-anchor="middle" textLength="62.8" lengthAdjust="spacingAndGlyphs" transform="rotate(-90 9.2 397.3)" >Potential&#160;&#160;(V)</text>
<text x="6.3" y="337.4" font-size="12.2" stroke="#000">g</text>
<polyline points="47.7,441 60.02,440 72.34,439.2 84.66,439.3 96.98,439 109.3,438.93 121.62,438.85 133.94,438.77 146.26,438.7 158.58,438.57 170.9,438.45 183.22,438.32 195.54,438.2 207.86,438.02 220.18,437.85 232.5,437.68 244.82,437.5 257.14,437.43 269.46,437.35 281.78,437.27 294.1,437.2 306.42,437.15 318.74,437.1 331.06,437.05 343.38,437 355.7,436.9 368.02,436.8 380.34,436.7 392.66,436.6 404.98,436.2 417.3,435.8 429.62,435.65 441.94,435.5 454.26,435.38 466.58,435.25 478.9,435.12 491.22,435 503.54,434.8 515.86,434.6 528.18,434.2 540.5,433.2" fill="none" stroke="#0000ff" stroke-width="1.4" stroke-linejoin="round" stroke-linecap="round" />
<rect x="45.85" y="439.15" width="3.7" height="3.7" fill="#0000ff"/>
<rect x="58.17" y="438.15" width="3.7" height="3.7" fill="#0000ff"/>
<rect x="70.49" y="437.35" width="3.7" height="3.7" fill="#0000ff"/>
<rect x="82.81" y="437.45" width="3.7" height="3.7" fill="#0000ff"/>
<rect x="95.13" y="437.15" width="3.7" height="3.7" fill="#0000ff"/>
<rect x="107.45" y="437.07" width="3.7" height="3.7" fill="#0000ff"/>
<rect x="119.77" y="437" width="3.7" height="3.7" fill="#0000ff"/>
<rect x="132.09" y="436.92" width="3.7" height="3.7" fill="#0000ff"/>
<rect x="144.41" y="436.85" width="3.7" height="3.7" fill="#0000ff"/>
<rect x="156.73" y="436.72" width="3.7" height="3.7" fill="#0000ff"/>
<rect x="169.05" y="436.6" width="3.7" height="3.7" fill="#0000ff"/>
<rect x="181.37" y="436.47" width="3.7" height="3.7" fill="#0000ff"/>
<rect x="193.69" y="436.35" width="3.7" height="3.7" fill="#0000ff"/>
<rect x="206.01" y="436.17" width="3.7" height="3.7" fill="#0000ff"/>
<rect x="218.33" y="436" width="3.7" height="3.7" fill="#0000ff"/>
<rect x="230.65" y="435.82" width="3.7" height="3.7" fill="#0000ff"/>
<rect x="242.97" y="435.65" width="3.7" height="3.7" fill="#0000ff"/>
<rect x="255.29" y="435.57" width="3.7" height="3.7" fill="#0000ff"/>
<rect x="267.61" y="435.5" width="3.7" height="3.7" fill="#0000ff"/>
<rect x="279.93" y="435.42" width="3.7" height="3.7" fill="#0000ff"/>
<rect x="292.25" y="435.35" width="3.7" height="3.7" fill="#0000ff"/>
<rect x="304.57" y="435.3" width="3.7" height="3.7" fill="#0000ff"/>
<rect x="316.89" y="435.25" width="3.7" height="3.7" fill="#0000ff"/>
<rect x="329.21" y="435.2" width="3.7" height="3.7" fill="#0000ff"/>
<rect x="341.53" y="435.15" width="3.7" height="3.7" fill="#0000ff"/>
<rect x="353.85" y="435.05" width="3.7" height="3.7" fill="#0000ff"/>
<rect x="366.17" y="434.95" width="3.7" height="3.7" fill="#0000ff"/>
<rect x="378.49" y="434.85" width="3.7" height="3.7" fill="#0000ff"/>
<rect x="390.81" y="434.75" width="3.7" height="3.7" fill="#0000ff"/>
<rect x="403.13" y="434.35" width="3.7" height="3.7" fill="#0000ff"/>
<rect x="415.45" y="433.95" width="3.7" height="3.7" fill="#0000ff"/>
<rect x="427.77" y="433.8" width="3.7" height="3.7" fill="#0000ff"/>
<rect x="440.09" y="433.65" width="3.7" height="3.7" fill="#0000ff"/>
<rect x="452.41" y="433.52" width="3.7" height="3.7" fill="#0000ff"/>
<rect x="464.73" y="433.4" width="3.7" height="3.7" fill="#0000ff"/>
<rect x="477.05" y="433.27" width="3.7" height="3.7" fill="#0000ff"/>
<rect x="489.37" y="433.15" width="3.7" height="3.7" fill="#0000ff"/>
<rect x="501.69" y="432.95" width="3.7" height="3.7" fill="#0000ff"/>
<rect x="514.01" y="432.75" width="3.7" height="3.7" fill="#0000ff"/>
<rect x="526.33" y="432.35" width="3.7" height="3.7" fill="#0000ff"/>
<rect x="538.65" y="431.35" width="3.7" height="3.7" fill="#0000ff"/>
<polyline points="48,435.4 60.3,434.5 72.6,434.5 85,433 97.3,431 109.6,426.5 121.9,425 133.5,422.5 146,420.5 158.4,416.6 168.3,411 182.8,403 195.6,393 198.2,380 199.4,366 200.8,352 202.8,341.6 204,332.5" fill="none" stroke="#000" stroke-width="1.4" stroke-linejoin="round" stroke-linecap="round" />
<rect x="46.15" y="433.55" width="3.7" height="3.7" fill="#000"/>
<rect x="58.45" y="432.65" width="3.7" height="3.7" fill="#000"/>
<rect x="70.75" y="432.65" width="3.7" height="3.7" fill="#000"/>
<rect x="83.15" y="431.15" width="3.7" height="3.7" fill="#000"/>
<rect x="95.45" y="429.15" width="3.7" height="3.7" fill="#000"/>
<rect x="107.75" y="424.65" width="3.7" height="3.7" fill="#000"/>
<rect x="120.05" y="423.15" width="3.7" height="3.7" fill="#000"/>
<rect x="131.65" y="420.65" width="3.7" height="3.7" fill="#000"/>
<rect x="144.15" y="418.65" width="3.7" height="3.7" fill="#000"/>
<rect x="156.55" y="414.75" width="3.7" height="3.7" fill="#000"/>
<rect x="166.45" y="409.15" width="3.7" height="3.7" fill="#000"/>
<rect x="180.95" y="401.15" width="3.7" height="3.7" fill="#000"/>
<rect x="193.75" y="391.15" width="3.7" height="3.7" fill="#000"/>
<rect x="196.35" y="378.15" width="3.7" height="3.7" fill="#000"/>
<rect x="197.55" y="364.15" width="3.7" height="3.7" fill="#000"/>
<rect x="198.95" y="350.15" width="3.7" height="3.7" fill="#000"/>
<rect x="200.95" y="339.75" width="3.7" height="3.7" fill="#000"/>
<polyline points="48,444 60.3,442.8 72.6,441.3 85,437.3 97.3,429.3 109.6,420.5 121.9,409.8 123.8,397.5 124.8,380.5 126,370.5 126.5,359.3 128,345.5 129,332.5" fill="none" stroke="#ff0000" stroke-width="1.4" stroke-linejoin="round" stroke-linecap="round" />
<rect x="46.15" y="442.15" width="3.7" height="3.7" fill="#ff0000"/>
<rect x="58.45" y="440.95" width="3.7" height="3.7" fill="#ff0000"/>
<rect x="70.75" y="439.45" width="3.7" height="3.7" fill="#ff0000"/>
<rect x="83.15" y="435.45" width="3.7" height="3.7" fill="#ff0000"/>
<rect x="95.45" y="427.45" width="3.7" height="3.7" fill="#ff0000"/>
<rect x="107.75" y="418.65" width="3.7" height="3.7" fill="#ff0000"/>
<rect x="120.05" y="407.95" width="3.7" height="3.7" fill="#ff0000"/>
<rect x="121.95" y="395.65" width="3.7" height="3.7" fill="#ff0000"/>
<rect x="122.95" y="378.65" width="3.7" height="3.7" fill="#ff0000"/>
<rect x="124.15" y="368.65" width="3.7" height="3.7" fill="#ff0000"/>
<rect x="124.65" y="357.45" width="3.7" height="3.7" fill="#ff0000"/>
<rect x="126.15" y="343.65" width="3.7" height="3.7" fill="#ff0000"/>
<line x1="302" y1="340.3" x2="322" y2="340.3" stroke="#000" stroke-width="1.4" />
<rect x="310.2" y="338.5" width="3.6" height="3.6" fill="#000"/>
<text x="324" y="343.09" font-size="8.2" fill="#000" stroke="#000" textLength="60.5" lengthAdjust="spacingAndGlyphs" >commercial IrO<tspan font-size="5.25" dy="2.62">2</tspan><tspan dy="-2.62"></tspan></text>
<line x1="384.5" y1="340.3" x2="404.6" y2="340.3" stroke="#ff0000" stroke-width="1.4" />
<rect x="392.7" y="338.5" width="3.6" height="3.6" fill="#ff0000"/>
<text x="407" y="343.09" font-size="8.2" fill="#000" stroke="#000" textLength="64.6" lengthAdjust="spacingAndGlyphs" >commercial RuO<tspan font-size="5.25" dy="2.62">2</tspan><tspan dy="-2.62"></tspan></text>
<line x1="471.6" y1="340.3" x2="491" y2="340.3" stroke="#0000ff" stroke-width="1.4" />
<rect x="479.5" y="338.5" width="3.6" height="3.6" fill="#0000ff"/>
<text x="493.5" y="342.54" font-size="6.6" fill="#000" stroke="#000" textLength="42.5" lengthAdjust="spacingAndGlyphs" >RuO<tspan font-size="4.22" dy="2.11">2</tspan><tspan dy="-2.11">@IrO<tspan font-size="4.22" dy="2.11">2</tspan><tspan dy="-2.11">/C</tspan></tspan></text>
<text x="398" y="425.36" font-size="9" fill="#000" stroke="#000" textLength="53.8" lengthAdjust="spacingAndGlyphs" >@10 mAcm<tspan font-size="5.58" dy="-3.42">&#8722;2</tspan><tspan dy="3.42"></tspan></text>
</svg>
</body></html>
